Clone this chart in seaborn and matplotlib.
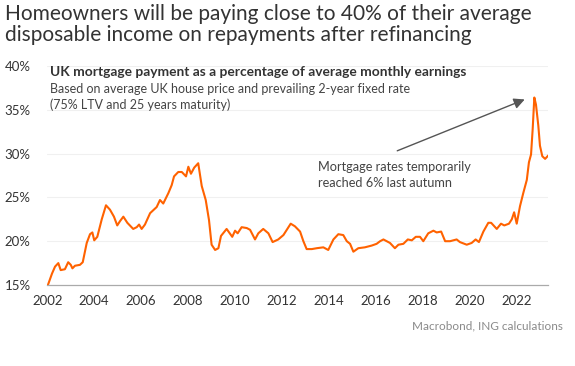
import numpy as np
import pandas as pd
import matplotlib
matplotlib.use("Agg")
import matplotlib.pyplot as plt
import seaborn as sns

# =========================
# DATA
# =========================

years = [
    2002.00, 2002.04, 2002.20, 2002.33, 2002.47, 2002.57, 2002.75, 2002.89, 2003.00, 2003.07,
    2003.18, 2003.39, 2003.51, 2003.68, 2003.82, 2003.92, 2004.00, 2004.13, 2004.32, 2004.50,
    2004.67, 2004.84, 2004.98, 2005.10, 2005.24, 2005.41, 2005.66, 2005.81, 2005.91, 2006.02,
    2006.16, 2006.38, 2006.66, 2006.80, 2006.94, 2007.16, 2007.30, 2007.40, 2007.58, 2007.73,
    2007.91, 2008.01, 2008.12, 2008.26, 2008.43, 2008.58, 2008.75, 2008.89, 2009.00, 2009.15,
    2009.29, 2009.40, 2009.64, 2009.88, 2010.00, 2010.11, 2010.28, 2010.50, 2010.64, 2010.85,
    2010.99, 2011.20, 2011.42, 2011.60, 2011.84, 2012.06, 2012.37, 2012.55, 2012.77, 2012.91,
    2013.05, 2013.27, 2013.48, 2013.76, 2013.97, 2014.19, 2014.40, 2014.61, 2014.76, 2014.90,
    2015.04, 2015.25, 2015.53, 2015.82, 2016.03, 2016.18, 2016.32, 2016.46, 2016.60, 2016.81,
    2016.96, 2017.17, 2017.36, 2017.53, 2017.70, 2017.88, 2018.02, 2018.23, 2018.45, 2018.59,
    2018.78, 2018.95, 2019.16, 2019.44, 2019.58, 2019.87, 2020.08, 2020.25, 2020.39, 2020.58,
    2020.79, 2020.91, 2021.15, 2021.33, 2021.47, 2021.67, 2021.79, 2021.89, 2022.00, 2022.14,
    2022.28, 2022.43, 2022.52, 2022.61, 2022.68, 2022.75, 2022.82, 2022.92, 2022.99, 2023.09,
    2023.21, 2023.35,
]

payment_pct = [
    14.9, 15.1, 16.3, 17.1, 17.5, 16.7, 16.8, 17.6, 17.3, 16.9,
    17.2, 17.3, 17.6, 19.8, 20.8, 21.0, 20.1, 20.5, 22.5, 24.1,
    23.6, 22.8, 21.8, 22.3, 22.8, 22.1, 21.4, 21.6, 21.9, 21.4,
    21.9, 23.2, 23.9, 24.7, 24.3, 25.5, 26.4, 27.4, 27.9, 27.9,
    27.4, 28.5, 27.7, 28.4, 28.9, 26.3, 24.7, 22.4, 19.6, 19.0,
    19.2, 20.6, 21.4, 20.5, 21.2, 20.9, 21.6, 21.5, 21.3, 20.2,
    20.9, 21.4, 20.9, 19.9, 20.2, 20.7, 22.0, 21.7, 21.1, 20.0,
    19.1, 19.1, 19.2, 19.3, 19.0, 20.2, 20.8, 20.7, 20.0, 19.7,
    18.8, 19.2, 19.3, 19.5, 19.7, 20.0, 20.2, 20.0, 19.8, 19.2,
    19.6, 19.7, 20.2, 20.1, 20.5, 20.5, 20.0, 20.9, 21.2, 21.0,
    21.1, 20.0, 20.0, 20.2, 19.9, 19.6, 19.8, 20.2, 19.9, 21.1,
    22.1, 22.1, 21.4, 22.0, 21.8, 22.0, 22.5, 23.3, 22.0, 24.0,
    25.5, 27.0, 29.0, 29.9, 32.8, 36.4, 35.6, 33.2, 30.9, 29.7,
    29.4, 29.8,
]

x_ticks = [2002, 2004, 2006, 2008, 2010, 2012, 2014, 2016, 2018, 2020, 2022]
y_ticks = [15, 20, 25, 30, 35, 40]

title = "Homeowners will be paying close to 40% of their average\ndisposable income on repayments after refinancing"
subtitle_bold = "UK mortgage payment as a percentage of average monthly earnings"
subtitle = "Based on average UK house price and prevailing 2-year fixed rate\n(75% LTV and 25 years maturity)"
note = "Mortgage rates temporarily\nreached 6% last autumn"
source = "Macrobond, ING calculations"

# =========================
# PLOT
# =========================

sns.set_style("white")
plt.rcParams['font.family'] = ['Lato', 'DejaVu Sans']

W, H = 575, 366
fig = plt.figure(figsize=(W / 100, H / 100), dpi=100)
ax = fig.add_axes([47.3 / W, 1 - 285 / H, (547.7 - 47.3) / W, (285 - 66) / H])

df = pd.DataFrame({"year": years, "pct": payment_pct})
sns.lineplot(data=df, x="year", y="pct", ax=ax, color="#ff6200", linewidth=1.5)

ax.set_xlim(2002, 2023.32)
ax.set_ylim(15, 40)
ax.set_xticks(x_ticks)
ax.set_yticks(y_ticks)
ax.set_yticklabels([f"{v}%" for v in y_ticks])
ax.set_xlabel("")
ax.set_ylabel("")
for v in y_ticks[1:]:
    ax.axhline(v, color="#f0f0f0", linewidth=0.8, zorder=0)

for side in ["top", "right", "left"]:
    ax.spines[side].set_visible(False)
ax.spines["bottom"].set_color("#aaaaaa")
ax.spines["bottom"].set_linewidth(0.9)
ax.tick_params(axis="x", direction="out", length=3, width=0.8, color="#aaaaaa",
               labelsize=9.5, labelcolor="#333333", pad=4)
ax.tick_params(axis="y", length=0, labelsize=9.5, labelcolor="#333333", pad=12)

# titles
fig.text(5 / W, 1 - 4 / H, title, ha="left", va="top", fontsize=15.0,
         color="#333333", linespacing=1.07)
fig.text(50 / W, 1 - 66 / H, subtitle_bold, ha="left", va="top", fontsize=9.9,
         fontweight="bold", color="#333333")
fig.text(50 / W, 1 - 83 / H, subtitle, ha="left", va="top", fontsize=9,
         color="#444444", linespacing=1.35)

# annotation
ax.annotate("", xy=(2022.45, 36.3), xytext=(2016.8, 30.2),
            arrowprops=dict(arrowstyle="-|>", color="#555555", lw=1.0,
                            mutation_scale=16, facecolor="black"))
ax.text(2013.55, 29.2, note, ha="left", va="top", fontsize=9.2, color="#444444",
        linespacing=1.45)

fig.text(563 / W, 1 - 326 / H, source, ha="right", va="center", fontsize=8.5,
         color="#8a8a8a")

fig.savefig("out.png", dpi=100)
